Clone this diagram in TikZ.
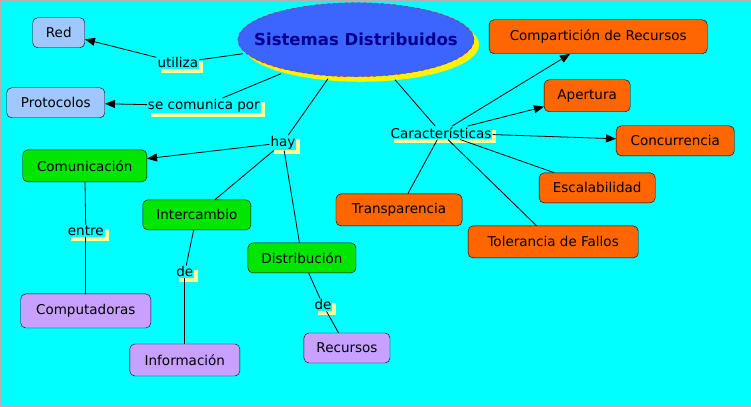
\documentclass[tikz,border=0pt]{standalone}
\usepackage{fontspec}
\setmainfont{DejaVu Sans}
\usetikzlibrary{shapes.geometric,shadows,arrows.meta}
\definecolor{bg}{RGB}{0,255,255}
\definecolor{lblue}{RGB}{160,200,255}
\definecolor{gr}{RGB}{0,230,0}
\definecolor{pu}{RGB}{200,160,255}
\definecolor{orng}{RGB}{255,102,0}
\definecolor{shy}{RGB}{255,255,150}
\definecolor{ttl}{RGB}{0,0,140}
\definecolor{ellb}{RGB}{60,100,255}
\begin{document}
\begin{tikzpicture}[x=1pt,y=-1pt,
  box/.style={draw=black,rounded corners=5pt,minimum height=30pt,inner xsep=4pt,font=\fontsize{13.5}{15}\selectfont},
  bl/.style={box,fill=lblue},
  gn/.style={box,fill=gr},
  pp/.style={box,fill=pu},
  og/.style={box,fill=orng},
  lbl/.style={fill=bg,inner sep=1pt,font=\fontsize{13.5}{15}\selectfont,
    drop shadow={fill=shy,opacity=1,shadow xshift=4pt,shadow yshift=-4pt}},
  ln/.style={draw=black,line width=0.8pt},
  ar/.style={ln,-{Triangle[length=10pt,width=8pt]}}]
\fill[bg,draw=gray!60] (0.5,0.5) rectangle (750.5,406.5);
\fill[yellow] (361,45) ellipse (118pt and 37pt);
\draw[fill=ellb,draw=red,dashed] (356,40) ellipse (118pt and 37pt);
\node[font=\bfseries\fontsize{16.5}{18}\selectfont,text=ttl] (sd) at (356,40) {Sistemas Distribuidos};
\node[bl,minimum width=52pt] (red) at (59,33) {Red};
\node[bl,minimum width=98pt] (pro) at (56,103) {Protocolos};
\node[gn,minimum width=124pt,minimum height=32pt] (com) at (85,166) {Comunicación};
\node[gn,minimum width=108pt] (int) at (197,215) {Intercambio};
\node[gn,minimum width=108pt] (dis) at (302,258) {Distribución};
\node[pp,minimum width=130pt,minimum height=34pt] (cmp) at (86,311) {Computadoras};
\node[pp,minimum width=110pt,minimum height=32pt] (inf) at (185,360) {Información};
\node[pp,minimum width=86pt] (rec) at (347,348) {Recursos};
\node[og,minimum width=218pt,minimum height=34pt] (cr) at (598,37) {Compartición de Recursos};
\node[og,minimum width=86pt,minimum height=32pt] (ap) at (587,96) {Apertura};
\node[og,minimum width=118pt] (cc) at (675,141) {Concurrencia};
\node[og,minimum width=116pt] (es) at (597,188) {Escalabilidad};
\node[og,minimum width=126pt,minimum height=32pt] (tr) at (399,210) {Transparencia};
\node[og,minimum width=170pt,minimum height=32pt] (tf) at (553,242) {Tolerancia de Fallos};
\node[lbl] (ut) at (178,63) {utiliza};
\node[lbl] (scp) at (204,106) {se comunica por};
\node[lbl] (hay) at (283,143) {hay};
\node[lbl] (car) at (441,133) {Características};
\node[lbl] (en) at (86,231) {entre};
\node[lbl] (de1) at (185,272) {de};
\node[lbl] (de2) at (323,305) {de};
\draw[ln] (243,54) -- (ut); \draw[ar] (ut) -- (red);
\draw[ln] (281,74) -- (scp); \draw[ar] (scp) -- (pro);
\draw[ln] (328,79) -- (hay);
\draw[ar] (hay) -- (com); \draw[ln] (hay) -- (int); \draw[ln] (hay) -- (dis);
\draw[ln] (395,80) -- (car);
\draw[ar] (car) -- (cr); \draw[ar] (car) -- (ap); \draw[ar] (car) -- (cc);
\draw[ln] (car) -- (es); \draw[ln] (car) -- (tr); \draw[ln] (car) -- (tf);
\draw[ln] (com) -- (en); \draw[ln] (en) -- (cmp);
\draw[ln] (int) -- (de1); \draw[ln] (de1) -- (inf);
\draw[ln] (dis) -- (de2); \draw[ln] (de2) -- (rec);
\end{tikzpicture}
\end{document}
